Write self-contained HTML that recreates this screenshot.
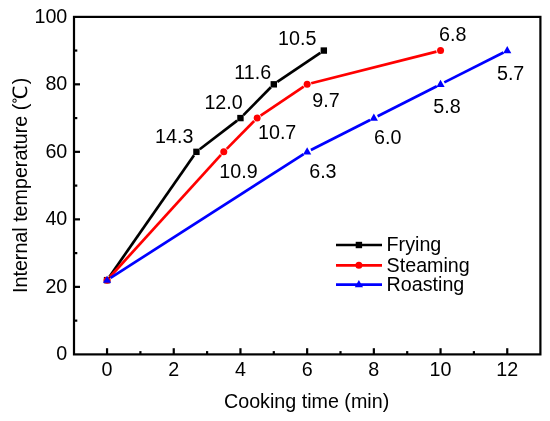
<!DOCTYPE html>
<html><head><meta charset="utf-8"><style>html,body{margin:0;padding:0;background:#fff;overflow:hidden}svg{display:block}</style></head>
<body><svg width="550" height="421" viewBox="0 0 550 421">
<rect width="550" height="421" fill="#fff"/>
<line x1="107.05" y1="354.40" x2="107.05" y2="348.20" stroke="#000" stroke-width="2.2"/>
<line x1="140.40" y1="354.40" x2="140.40" y2="351.10" stroke="#000" stroke-width="2.2"/>
<line x1="173.75" y1="354.40" x2="173.75" y2="348.20" stroke="#000" stroke-width="2.2"/>
<line x1="207.10" y1="354.40" x2="207.10" y2="351.10" stroke="#000" stroke-width="2.2"/>
<line x1="240.45" y1="354.40" x2="240.45" y2="348.20" stroke="#000" stroke-width="2.2"/>
<line x1="273.80" y1="354.40" x2="273.80" y2="351.10" stroke="#000" stroke-width="2.2"/>
<line x1="307.15" y1="354.40" x2="307.15" y2="348.20" stroke="#000" stroke-width="2.2"/>
<line x1="340.50" y1="354.40" x2="340.50" y2="351.10" stroke="#000" stroke-width="2.2"/>
<line x1="373.85" y1="354.40" x2="373.85" y2="348.20" stroke="#000" stroke-width="2.2"/>
<line x1="407.20" y1="354.40" x2="407.20" y2="351.10" stroke="#000" stroke-width="2.2"/>
<line x1="440.55" y1="354.40" x2="440.55" y2="348.20" stroke="#000" stroke-width="2.2"/>
<line x1="473.90" y1="354.40" x2="473.90" y2="351.10" stroke="#000" stroke-width="2.2"/>
<line x1="507.25" y1="354.40" x2="507.25" y2="348.20" stroke="#000" stroke-width="2.2"/>
<line x1="74.00" y1="320.64" x2="77.30" y2="320.64" stroke="#000" stroke-width="2.2"/>
<line x1="74.00" y1="286.88" x2="80.00" y2="286.88" stroke="#000" stroke-width="2.2"/>
<line x1="74.00" y1="253.12" x2="77.30" y2="253.12" stroke="#000" stroke-width="2.2"/>
<line x1="74.00" y1="219.36" x2="80.00" y2="219.36" stroke="#000" stroke-width="2.2"/>
<line x1="74.00" y1="185.60" x2="77.30" y2="185.60" stroke="#000" stroke-width="2.2"/>
<line x1="74.00" y1="151.84" x2="80.00" y2="151.84" stroke="#000" stroke-width="2.2"/>
<line x1="74.00" y1="118.08" x2="77.30" y2="118.08" stroke="#000" stroke-width="2.2"/>
<line x1="74.00" y1="84.32" x2="80.00" y2="84.32" stroke="#000" stroke-width="2.2"/>
<line x1="74.00" y1="50.56" x2="77.30" y2="50.56" stroke="#000" stroke-width="2.2"/>
<rect x="74.00" y="16.90" width="466.40" height="337.50" fill="none" stroke="#000" stroke-width="2.2" stroke-linejoin="miter"/>
<g font-family="'Liberation Sans', Arial, sans-serif" font-size="19.7" fill="#000">
<text x="107.05" y="375.6" text-anchor="middle">0</text>
<text x="173.75" y="375.6" text-anchor="middle">2</text>
<text x="240.45" y="375.6" text-anchor="middle">4</text>
<text x="307.15" y="375.6" text-anchor="middle">6</text>
<text x="373.85" y="375.6" text-anchor="middle">8</text>
<text x="440.55" y="375.6" text-anchor="middle">10</text>
<text x="507.25" y="375.6" text-anchor="middle">12</text>
<text x="67.3" y="360.40" text-anchor="end">0</text>
<text x="67.3" y="292.88" text-anchor="end">20</text>
<text x="67.3" y="225.36" text-anchor="end">40</text>
<text x="67.3" y="157.84" text-anchor="end">60</text>
<text x="67.3" y="90.32" text-anchor="end">80</text>
<text x="67.3" y="22.80" text-anchor="end">100</text>
<text x="306.6" y="408.2" text-anchor="middle">Cooking time (min)</text>
<text transform="translate(27.2,293) rotate(-90)">Internal temperature (<tspan font-family="'WenQuanYi Zen Hei', 'Noto Sans CJK SC', sans-serif">℃</tspan><tspan dx="1.3">)</tspan></text>
</g>
<line x1="109.45" y1="276.68" x2="194.03" y2="155.29" stroke="#000" stroke-width="2.7"/>
<line x1="199.76" y1="149.28" x2="237.12" y2="120.64" stroke="#000" stroke-width="2.7"/>
<line x1="243.40" y1="115.09" x2="270.85" y2="87.31" stroke="#000" stroke-width="2.7"/>
<line x1="277.28" y1="81.97" x2="320.34" y2="52.91" stroke="#000" stroke-width="2.7"/>
<rect x="103.85" y="276.93" width="6.4" height="6.4" fill="#000"/>
<rect x="193.23" y="148.64" width="6.4" height="6.4" fill="#000"/>
<rect x="237.25" y="114.88" width="6.4" height="6.4" fill="#000"/>
<rect x="270.60" y="81.12" width="6.4" height="6.4" fill="#000"/>
<rect x="320.62" y="47.36" width="6.4" height="6.4" fill="#000"/>
<line x1="109.88" y1="277.02" x2="220.95" y2="154.95" stroke="#f00" stroke-width="2.7"/>
<line x1="226.73" y1="148.85" x2="254.17" y2="121.07" stroke="#f00" stroke-width="2.7"/>
<line x1="260.61" y1="115.73" x2="303.67" y2="86.67" stroke="#f00" stroke-width="2.7"/>
<line x1="311.22" y1="83.29" x2="436.48" y2="51.59" stroke="#f00" stroke-width="2.7"/>
<circle cx="107.05" cy="280.13" r="3.5" fill="#f00"/>
<circle cx="223.78" cy="151.84" r="3.5" fill="#f00"/>
<circle cx="257.12" cy="118.08" r="3.5" fill="#f00"/>
<circle cx="307.15" cy="84.32" r="3.5" fill="#f00"/>
<circle cx="440.55" cy="50.56" r="3.5" fill="#f00"/>
<line x1="110.59" y1="277.86" x2="303.61" y2="154.11" stroke="#00f" stroke-width="2.7"/>
<line x1="310.90" y1="149.94" x2="370.10" y2="119.98" stroke="#00f" stroke-width="2.7"/>
<line x1="377.60" y1="116.18" x2="436.80" y2="86.22" stroke="#00f" stroke-width="2.7"/>
<line x1="444.30" y1="82.42" x2="503.50" y2="52.46" stroke="#00f" stroke-width="2.7"/>
<polygon points="107.05,275.63 111.15,282.83 102.95,282.83" fill="#00f"/>
<polygon points="307.15,147.34 311.25,154.54 303.05,154.54" fill="#00f"/>
<polygon points="373.85,113.58 377.95,120.78 369.75,120.78" fill="#00f"/>
<polygon points="440.55,79.82 444.65,87.02 436.45,87.02" fill="#00f"/>
<polygon points="507.25,46.06 511.35,53.26 503.15,53.26" fill="#00f"/>
<g font-family="'Liberation Sans', Arial, sans-serif" font-size="19.7" fill="#000">
<text x="155.1" y="142.65">14.3</text>
<text x="204.4" y="108.5">12.0</text>
<text x="234.25" y="79.45">11.6</text>
<text x="278.1" y="45.3">10.5</text>
<text x="219.3" y="178.4">10.9</text>
<text x="258.0" y="139.2">10.7</text>
<text x="312.25" y="107.45">9.7</text>
<text x="439.05" y="41.25">6.8</text>
<text x="309.2" y="178.3">6.3</text>
<text x="374.05" y="143.95">6.0</text>
<text x="433.3" y="112.65">5.8</text>
<text x="496.95" y="79.55">5.7</text>
<text x="386.6" y="250.9">Frying</text>
<text x="386.6" y="271.8">Steaming</text>
<text x="386.6" y="290.6">Roasting</text>
</g>
<line x1="336" y1="245.0" x2="382" y2="245.0" stroke="#000" stroke-width="2.7"/>
<rect x="355.70" y="241.80" width="6.4" height="6.4" fill="#000"/>
<line x1="336" y1="265.3" x2="382" y2="265.3" stroke="#f00" stroke-width="2.7"/>
<circle cx="358.90" cy="265.30" r="3.5" fill="#f00"/>
<line x1="336" y1="284.6" x2="382" y2="284.6" stroke="#00f" stroke-width="2.7"/>
<polygon points="358.90,280.10 363.00,287.30 354.80,287.30" fill="#00f"/>
</svg>
</body></html>
